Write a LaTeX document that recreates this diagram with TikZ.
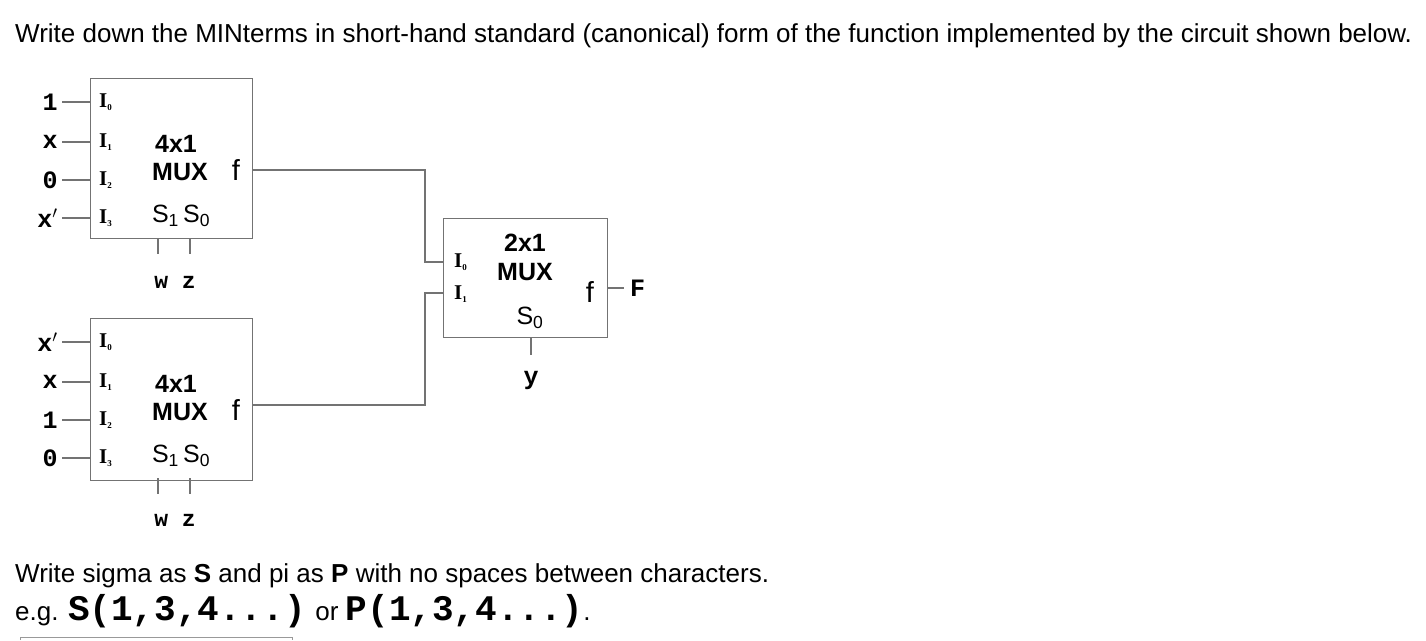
\documentclass[tikz,border=0pt]{standalone}
\usepackage{fontspec}
\setmainfont{Liberation Sans}
\newfontfamily\mono{Liberation Mono}
\newfontfamily\tms{Liberation Serif}
\begin{document}
\begin{tikzpicture}[x=1pt,y=-1pt,
  box/.style={draw=black!55,line width=1.3pt},
  wire/.style={draw=black!55,line width=1.2pt},
  lab/.style={font=\mono\bfseries\fontsize{25}{25}\selectfont,inner sep=0pt},
  ilab/.style={font=\tms\bfseries\fontsize{21}{21}\selectfont,inner sep=0pt,anchor=west},
  txt/.style={font=\fontsize{25}{25}\selectfont,inner sep=0pt},
  btxt/.style={font=\bfseries\fontsize{25}{25}\selectfont,inner sep=0pt},
  q/.style={font=\fontsize{26}{26}\selectfont,inner sep=0pt,anchor=base west}]
\useasboundingbox (0,0) rectangle (1426,640);
\node[q] (title) at (15,42) {Write down the MINterms in short-hand standard (canonical) form of the function implemented by the circuit shown below.};
\node[box,minimum width=162pt,minimum height=160pt,anchor=north west,inner sep=0pt] (m1) at (90,78) {};
\node[box,minimum width=162pt,minimum height=162pt,anchor=north west,inner sep=0pt] (m2) at (90,318) {};
\node[box,minimum width=164pt,minimum height=119pt,anchor=north west,inner sep=0pt] (m3) at (443,218) {};
\foreach \m/\yo in {m1/78,m2/318}{
  \foreach \i/\dy in {0/24,1/64,2/102,3/140}{
    \coordinate (\m in\i) at (90,\yo+\dy);
    \node[ilab] at (99,\yo+\dy) {I\raisebox{-3pt}{\fontsize{9}{9}\selectfont\i}};
    \draw[wire] (\m in\i) -- ++(-28,0) coordinate (\m src\i);
  }
  \node[btxt] at (176,\yo+66) {4x1};
  \node[btxt] at (180,\yo+94) {MUX};
  \node[txt,font=\fontsize{29}{29}\selectfont] at (236,\yo+92) {f};
  \node[txt] at (181,\yo+138) {S\textsubscript{1}\,S\textsubscript{0}};
}
\foreach \m/\yo in {m1/78,m2/318}{
  \draw[wire] (158,\yo+160) coordinate (\m s1) -- ++(0,16);
  \draw[wire] (190,\yo+160) coordinate (\m s0) -- ++(0,16);
}
\node[lab,font=\mono\bfseries\fontsize{23}{23}\selectfont] (wz1) at (175,282) {w z};
\node[lab,font=\mono\bfseries\fontsize{23}{23}\selectfont] (wz2) at (175,520) {w z};
\node[lab,anchor=east] (a0) at (m1src0) {1\,};
\node[lab,anchor=east] (a1) at (m1src1) {x\,};
\node[lab,anchor=east] (a2) at (m1src2) {0\,};
\node[lab,anchor=east] (a3) at (m1src3) {x$'$\,};
\node[lab,anchor=east] (b0) at (m2src0) {x$'$\,};
\node[lab,anchor=east] (b1) at (m2src1) {x\,};
\node[lab,anchor=east] (b2) at (m2src2) {1\,};
\node[lab,anchor=east] (b3) at (m2src3) {0\,};
\node[ilab] at (454,262) {I\raisebox{-3pt}{\fontsize{9}{9}\selectfont 0}};
\node[ilab] at (454,294) {I\raisebox{-3pt}{\fontsize{9}{9}\selectfont 1}};
\node[btxt] at (525,243) {2x1};
\node[btxt] at (525,272) {MUX};
\node[txt,font=\fontsize{29}{29}\selectfont] at (590,292) {f};
\node[txt] at (530,318) {S\textsubscript{0}};
\draw[wire] (252,170) -- (425,170) -- (425,262) -- (443,262);
\draw[wire] (252,405) -- (425,405) -- (425,293) -- (443,293);
\draw[wire] (607,288) -- (624,288);
\node[lab,anchor=west] (F) at (630,288) {F};
\draw[wire] (531,337) -- (531,355);
\node[lab] (y) at (531,380) {y};
\node[q] (t2) at (15,582) {Write sigma as \textbf{S} and pi as \textbf{P} with no spaces between characters.};
\node[q] (t3) at (15,620) {e.g. {\mono\bfseries\fontsize{36}{36}\selectfont S(1,3,4...)} or {\mono\bfseries\fontsize{36}{36}\selectfont P(1,3,4...)}.};
\draw[black!40,line width=1pt] (20,640) -- (20,637) -- (292,637) -- (292,640);
\end{tikzpicture}
\end{document}
